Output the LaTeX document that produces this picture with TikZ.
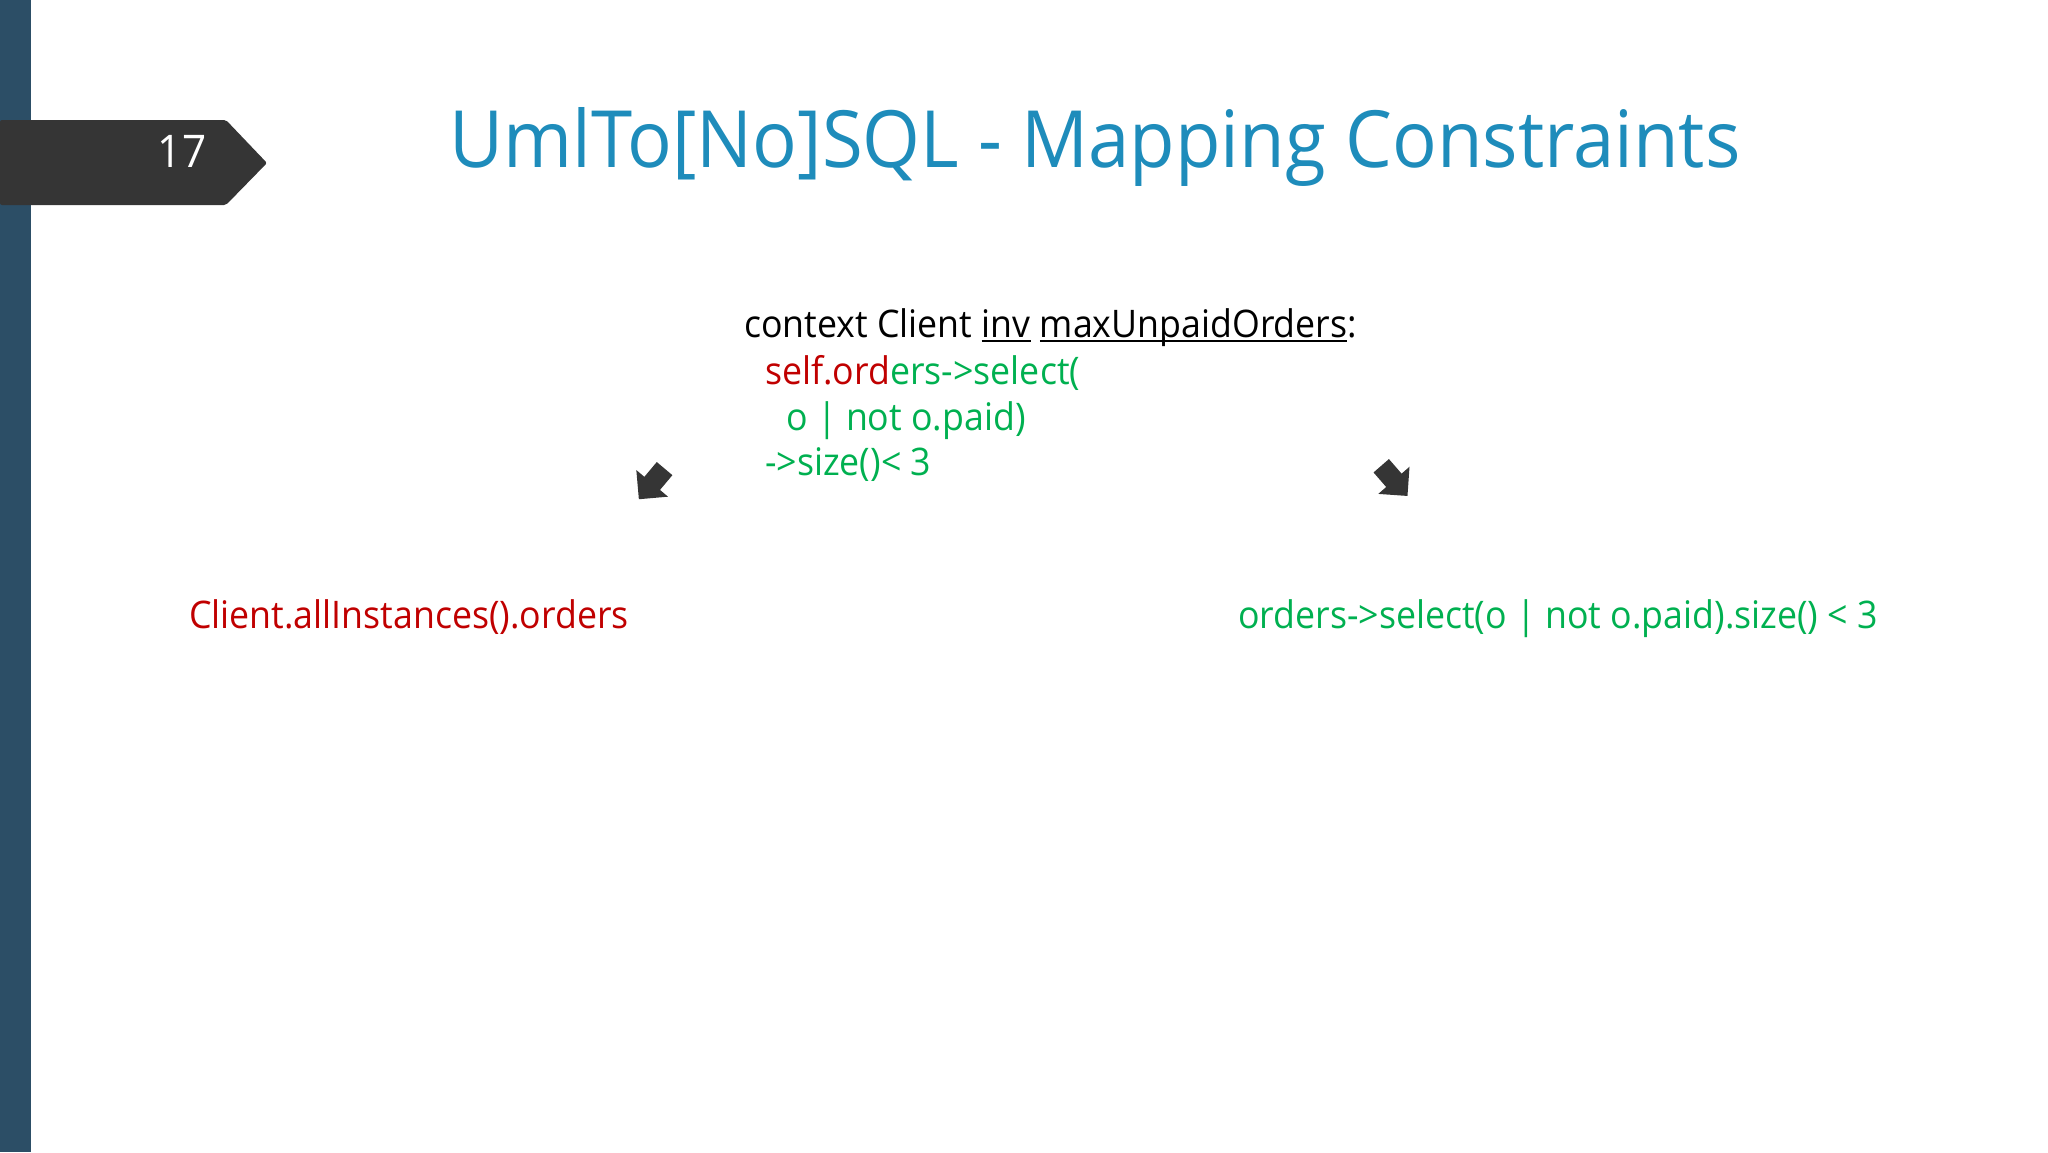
\documentclass[tikz,border=0pt]{standalone}
\usepackage{fontspec}
\setmainfont[FakeStretch=0.94]{Open Sans}
\usetikzlibrary{shapes.arrows}
\definecolor{slidebar}{HTML}{2C4E66}
\definecolor{tabgray}{HTML}{353535}
\definecolor{titleblue}{HTML}{1E8CBB}
\definecolor{oclred}{HTML}{C00000}
\definecolor{oclgreen}{HTML}{00B050}
\newcommand\oclul[1]{\setbox0\hbox{#1}\rlap{\rule[-0.13em]{\wd0}{0.05em}}\box0\relax}

\begin{document}
\begin{tikzpicture}[x=1pt,y=-1pt,
        code/.style={anchor=base west,inner sep=0pt,font=\fontsize{38}{46}\selectfont},
        blockarrow/.style={single arrow,fill=tabgray,inner xsep=0pt,inner ysep=10pt,
            single arrow head extend=10.5pt,minimum height=40pt}
    ]
    \useasboundingbox (0,0) rectangle (2048,1152);
    \fill[slidebar] (0,0) rectangle (31,1152);
    \fill[tabgray,rounded corners=2pt] (0,120) -- (226,120) -- (267,163) -- (226,205) -- (0,205) -- cycle;
    \node[text=white,inner sep=0pt,font=\fontsize{45}{54}\selectfont] (slideno) at (182,151) {17};
    \node[text=titleblue,anchor=base,inner sep=0pt,font=\fontsize{79}{96}\selectfont] (title) at (1095,167)
        {UmlTo[No]SQL - Mapping Constraints};

    \node[code] (ctx) at (744,337) {context Client \oclul{inv} \oclul{maxUnpaidOrders}:};
    \node[code] (sel) at (765,384) {\textcolor{oclred}{self.ord}\textcolor{oclgreen}{ers->select(}};
    \node[code,text=oclgreen] (cond) at (786,430) {o | not o.paid)};
    \node[code,text=oclgreen] (size) at (765,475) {->size()< 3};

    \node[blockarrow,rotate=230] (arrleft) at (655,480) {};
    \node[blockarrow,rotate=311] (arrright) at (1391,477) {};

    \node[code,text=oclred] (nav) at (189,628) {Client.allInstances().orders};
    \node[code,text=oclgreen] (filter) at (1238,628) {orders->select(o | not o.paid).size() < 3};
\end{tikzpicture}
\end{document}
